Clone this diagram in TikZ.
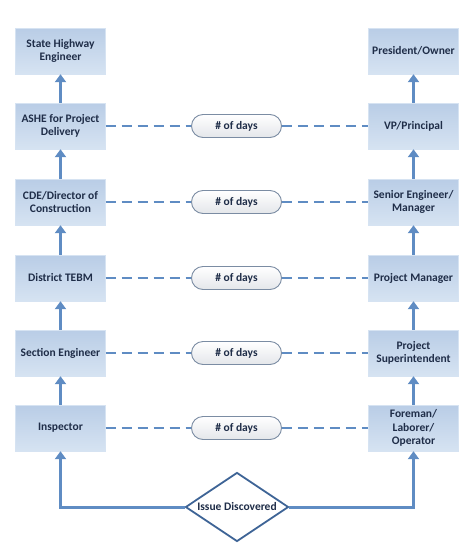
\documentclass[tikz,border=0pt]{standalone}
\usepackage{fontspec}
\setmainfont{Carlito}
\usepackage{xcolor}
\usetikzlibrary{arrows.meta,shapes.geometric}

\definecolor{boxtop}{HTML}{B9CDE6}
\definecolor{boxbot}{HTML}{D6E3F2}
\definecolor{linkblue}{HTML}{5F8CC3}
\definecolor{inkblue}{HTML}{1F2D48}
\definecolor{pillgray}{HTML}{E4E6EA}
\definecolor{pillrim}{HTML}{7B8CA3}
\definecolor{diarim}{HTML}{3E6496}

\tikzset{
  rolebox/.style={rectangle, minimum width=90pt, minimum height=46pt, top color=boxtop, bottom color=boxbot,
    draw=boxbot, align=center, text=inkblue, font=\fontsize{11.5}{13.5}\selectfont\bfseries, inner sep=2pt},
  daypill/.style={rectangle, rounded corners=11.5pt, minimum width=90pt, minimum height=23pt, top color=white,
    bottom color=pillgray, draw=pillrim, line width=0.9pt, text=inkblue, font=\fontsize{11.5}{13.5}\selectfont\bfseries},
  upflow/.style={linkblue, line width=3pt, -{Triangle[length=8pt,width=11pt]}},
  tieline/.style={linkblue, line width=1.4pt, dash pattern=on 10pt off 6pt},
}

\begin{document}
\begin{tikzpicture}[x=1pt,y=-1pt]
	\useasboundingbox (0,0) rectangle (474,557);

	% owner side on the left
	\node[rolebox] (she) at (60.5,51) {State Highway\\Engineer};
	\node[rolebox] (ashe) at (60.5,126) {ASHE for Project\\Delivery};
	\node[rolebox] (cde) at (60.5,202) {CDE/Director of\\Construction};
	\node[rolebox] (tebm) at (60.5,278) {District TEBM};
	\node[rolebox] (sect) at (60.5,353) {Section Engineer};
	\node[rolebox] (insp) at (60.5,428) {Inspector};

	% contractor side on the right
	\node[rolebox] (pres) at (413.5,51) {President/Owner};
	\node[rolebox] (vp) at (413.5,126) {VP/Principal};
	\node[rolebox] (seng) at (413.5,202) {Senior Engineer/\\Manager};
	\node[rolebox] (pm) at (413.5,278) {Project Manager};
	\node[rolebox] (supt) at (413.5,353) {Project\\Superintendent};
	\node[rolebox] (fore) at (413.5,428) {Foreman/\\Laborer/\\Operator};

	% days between the levels
	\node[daypill] (d1) at (236.5,126) {\# of days};
	\node[daypill] (d2) at (236.5,202) {\# of days};
	\node[daypill] (d3) at (236.5,278) {\# of days};
	\node[daypill] (d4) at (236.5,353) {\# of days};
	\node[daypill] (d5) at (236.5,428) {\# of days};

	\node[diamond, draw=diarim, fill=white, line width=1.8pt, aspect=1.5, inner sep=0pt, minimum width=103pt,
		minimum height=69pt, text=inkblue, font=\fontsize{11.5}{13.5}\selectfont\bfseries] (issue) at (237,507) {Issue Discovered};

	% escalation arrows
	\draw[upflow] (insp) -- (sect);
	\draw[upflow] (sect) -- (tebm);
	\draw[upflow] (tebm) -- (cde);
	\draw[upflow] (cde) -- (ashe);
	\draw[upflow] (ashe) -- (she);
	\draw[upflow] (fore) -- (supt);
	\draw[upflow] (supt) -- (pm);
	\draw[upflow] (pm) -- (seng);
	\draw[upflow] (seng) -- (vp);
	\draw[upflow] (vp) -- (pres);

	\draw[upflow] (issue.west) -| (insp.south);
	\draw[upflow] (issue.east) -| (fore.south);

	% dashed ties
	\draw[tieline] (ashe) -- (d1) -- (vp);
	\draw[tieline] (cde) -- (d2) -- (seng);
	\draw[tieline] (tebm) -- (d3) -- (pm);
	\draw[tieline] (sect) -- (d4) -- (supt);
	\draw[tieline] (insp) -- (d5) -- (fore);
\end{tikzpicture}
\end{document}
